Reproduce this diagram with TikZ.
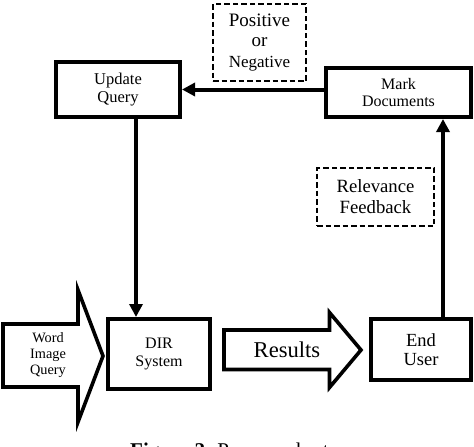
\documentclass[tikz,border=0pt]{standalone}
\usepackage{fontspec}
\setmainfont{Liberation Serif}
\usetikzlibrary{arrows.meta}
\begin{document}
\begin{tikzpicture}[x=1pt,y=-1pt,
  box/.style={draw,line width=4pt,align=center,inner sep=0pt},
  dbox/.style={draw,line width=2.2pt,dash pattern=on 5.5pt off 3pt,align=center,inner sep=0pt},
  conn/.style={line width=4pt,-{Triangle[length=13pt,width=13pt]}},
  bigarrow/.style={line width=3.6pt,line join=miter},
  lbl/.style={inner sep=0pt,align=center}]
\clip (0,0) rectangle (474,447);
\useasboundingbox (0,0) rectangle (474,447);

% dashed note boxes
\node[dbox,minimum width=93pt,minimum height=77pt,font=\fontsize{19}{20.5}\selectfont]
  (posneg) at (259.5,42.5) {Positive\\or\\\fontsize{17}{20.5}\selectfont Negative};
\node[dbox,minimum width=117pt,minimum height=58pt,font=\fontsize{18.7}{21}\selectfont]
  (relfb) at (375.5,197) {Relevance\\Feedback};

% boxes
\node[box,minimum width=124pt,minimum height=55pt,font=\fontsize{16.5}{18}\selectfont]
  (update) at (118,89.5) {Update\\Query};
\node[box,minimum width=145pt,minimum height=49pt,font=\fontsize{16}{17}\selectfont]
  (mark) at (398.5,92.5) {Mark\\Documents};
\node[box,minimum width=102pt,minimum height=70pt,font=\fontsize{16}{18}\selectfont]
  (dir) at (159,354) {DIR\\System};
\node[box,minimum width=100pt,minimum height=61pt,font=\fontsize{18.5}{19}\selectfont]
  (enduser) at (421,349.5) {End\\User};

% connectors
\draw[conn] (mark.west |- update.east) -- (update.east);
\draw[conn] ([xshift=18pt]update.south) -- ([xshift=18pt]update.south |- dir.north);
\draw[conn] ([xshift=22pt]enduser.north) -- ([xshift=22pt]enduser.north |- mark.south);

% block arrows
\draw[bigarrow] (3,324) -- (78,324) -- (78,290) -- (103,356) -- (78,422) -- (78,387) -- (3,387) -- cycle;
\node[lbl,font=\fontsize{14.3}{16}\selectfont] (wiq) at (48,354.7) {Word\\Image\\Query};
\draw[bigarrow] (224,330) -- (329.5,330) -- (329.5,312.5) -- (361,350) -- (329.5,387.5) -- (329.5,369.5) -- (224,369.5) -- cycle;
\node[lbl,font=\fontsize{22.6}{24}\selectfont] (results) at (287,349.3) {Results};

% caption (cut by the lower edge, as in the reference)
\node[lbl,anchor=base west,font=\fontsize{21}{24}\selectfont] (cap) at (130,457) {\textbf{Figure 2.} Process chart};
\end{tikzpicture}
\end{document}
